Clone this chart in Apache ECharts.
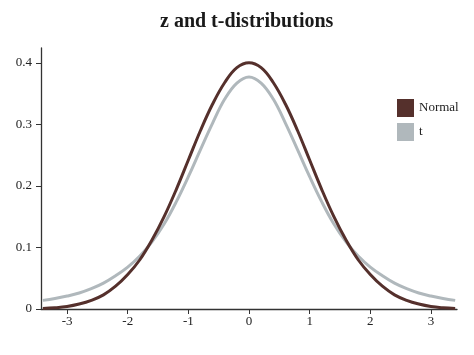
<!DOCTYPE html>
<html>
<head>
<meta charset="utf-8">
<script src="https://cdn.jsdelivr.net/npm/echarts@6/dist/echarts.min.js"></script>
<style>html,body{margin:0;padding:0;background:#fff;}#c{width:474px;height:355px;}</style>
</head>
<body>
<div id="c"></div>
<script>
var xs = [-3.4,-3.2,-3.0,-2.8,-2.6,-2.4,-2.2,-2.0,-1.8,-1.6,-1.4,-1.2,-1.0,-0.8,-0.6,-0.4,-0.2,0,0.2,0.4,0.6,0.8,1.0,1.2,1.4,1.6,1.8,2.0,2.2,2.4,2.6,2.8,3.0,3.2,3.4];
var normalVals = [0.001,0.002,0.004,0.008,0.014,0.023,0.037,0.056,0.080,0.112,0.150,0.194,0.242,0.290,0.333,0.368,0.392,0.400,0.392,0.368,0.333,0.290,0.242,0.194,0.150,0.112,0.080,0.056,0.037,0.023,0.014,0.008,0.004,0.002,0.001];
var tVals = [0.014,0.017,0.021,0.026,0.033,0.042,0.054,0.068,0.086,0.109,0.138,0.174,0.215,0.259,0.302,0.341,0.367,0.377,0.367,0.341,0.302,0.259,0.215,0.174,0.138,0.109,0.086,0.068,0.054,0.042,0.033,0.026,0.021,0.017,0.014];
var xTicks = [-3,-2,-1,0,1,2,3];
var yTicks = [0,0.1,0.2,0.3,0.4];
var seriesNames = ['Normal','t'];

var font = 'Liberation Serif';
var chart = echarts.init(document.getElementById('c'));
function pairs(v){ return xs.map(function(x,i){return [x,v[i]];}); }
chart.setOption({
  animation:false,
  backgroundColor:'#fff',
  title:{text:'z and t-distributions',left:160,top:12,padding:0,
    textStyle:{fontFamily:font,fontSize:20,fontWeight:'bold',color:'#1a1a1a'}},
  legend:{orient:'vertical',left:392,top:94,itemWidth:17,itemHeight:18,itemGap:6,icon:'rect',
    textStyle:{fontFamily:font,fontSize:13,color:'#222'},data:seriesNames},
  grid:{left:41,right:17,top:48,bottom:46},
  xAxis:{type:'value',min:-3.43,max:3.43,
    axisLine:{onZero:false,lineStyle:{color:'#333',width:1.3}},
    axisTick:{customValues:xTicks,length:5,lineStyle:{color:'#333'}},
    axisLabel:{customValues:xTicks,fontFamily:font,fontSize:13,color:'#222',margin:6},
    splitLine:{show:false}},
  yAxis:{type:'value',min:0,max:0.424,
    axisLine:{show:true,onZero:false,lineStyle:{color:'#333',width:1.3}},
    axisTick:{show:true,customValues:yTicks,length:5,lineStyle:{color:'#333'}},
    axisLabel:{customValues:yTicks,fontFamily:font,fontSize:13,color:'#222',margin:9},
    splitLine:{show:false}},
  series:[
    {name:seriesNames[0],type:'line',data:pairs(normalVals),smooth:0.4,showSymbol:false,
      lineStyle:{color:'#55302c',width:3},itemStyle:{color:'#55302c'},z:3},
    {name:seriesNames[1],type:'line',data:pairs(tVals),smooth:0.4,showSymbol:false,
      lineStyle:{color:'#b0b8bc',width:3},itemStyle:{color:'#b0b8bc'},z:2}
  ]
});
</script>
</body>
</html>
